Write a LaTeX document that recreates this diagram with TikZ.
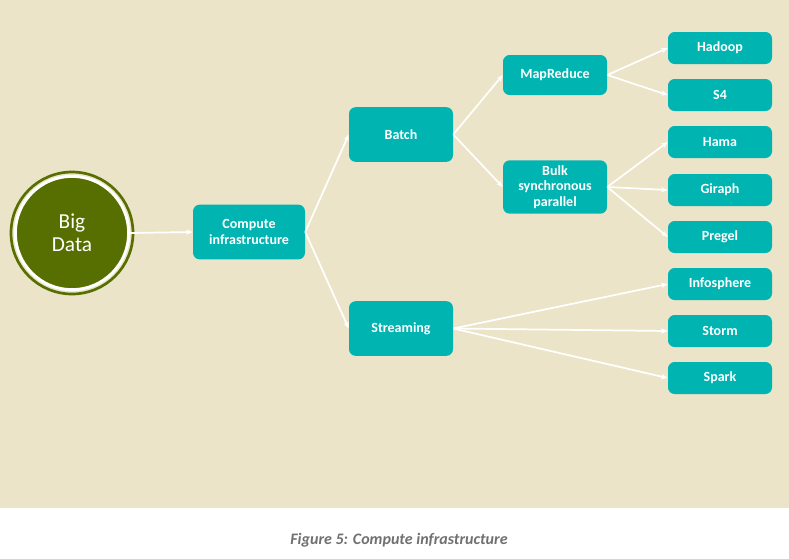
\documentclass[tikz,border=0pt]{standalone}
\usepackage{fontspec}
\setmainfont{Carlito}
\usetikzlibrary{arrows.meta}
\definecolor{bg}{HTML}{EBE4C8}
\definecolor{teal}{HTML}{00B4B2}
\definecolor{olive}{HTML}{566F00}
\definecolor{cap}{HTML}{707070}
\begin{document}
\begin{tikzpicture}[x=0.75pt,y=-0.75pt,
  box/.style={draw=none,fill=teal,rounded corners=5pt,text=white,font=\bfseries\fontsize{10.5}{11.5}\selectfont,align=center,inner sep=0pt},
  big/.style={box,minimum width=84pt,minimum height=41pt},
  mid/.style={box,minimum width=78pt,minimum height=41pt},
  sm/.style={box,minimum width=78pt,minimum height=24pt},
  arr/.style={draw=white,line width=1.3pt,-{Stealth[length=5pt,width=4pt]}}]
\useasboundingbox (0,0) rectangle (789,558);
\fill[bg] (0,0) rectangle (789,508);
\fill[white] (0,508) rectangle (789,558);
\node[circle,fill=olive,draw=white,line width=2.2pt,minimum size=85pt,text=white,font=\fontsize{16}{17}\selectfont,align=center] (bd) at (72,233) {Big\\Data};
\draw[olive,line width=2pt] (72,233) circle (61);
\node[big] (ci) at (249,232) {Compute\\infrastructure};
\node[mid] (ba) at (401,134.5) {Batch};
\node[mid] (st) at (401,328.5) {Streaming};
\node[mid,minimum height=30pt] (mr) at (555,75) {MapReduce};
\node[mid,minimum height=40pt] (bsp) at (555,187) {Bulk\\synchronous\\parallel};
\node[sm] (ha) at (720,48) {Hadoop};
\node[sm] (s4) at (720,95) {S4};
\node[sm] (hm) at (720,142) {Hama};
\node[sm] (gi) at (720,190) {Giraph};
\node[sm] (pr) at (720,237) {Pregel};
\node[sm] (in) at (720,284) {Infosphere};
\node[sm] (sto) at (720,331) {Storm};
\node[sm] (sp) at (720,378) {Spark};
\draw[arr] (bd.east) -- (ci.west);
\draw[arr] (ci.east) -- (ba.west);
\draw[arr] (ci.east) -- (st.west);
\draw[arr] (ba.east) -- (mr.west);
\draw[arr] (ba.east) -- (bsp.west);
\draw[arr] (mr.east) -- (ha.west);
\draw[arr] (mr.east) -- (s4.west);
\draw[arr] (bsp.east) -- (hm.west);
\draw[arr] (bsp.east) -- (gi.west);
\draw[arr] (bsp.east) -- (pr.west);
\draw[arr] (st.east) -- (in.west);
\draw[arr] (st.east) -- (sto.west);
\draw[arr] (st.east) -- (sp.west);
\node[text=cap,font=\bfseries\itshape\fontsize{12}{13}\selectfont] (capt) at (399,540) {Figure 5: Compute infrastructure};
\end{tikzpicture}
\end{document}
